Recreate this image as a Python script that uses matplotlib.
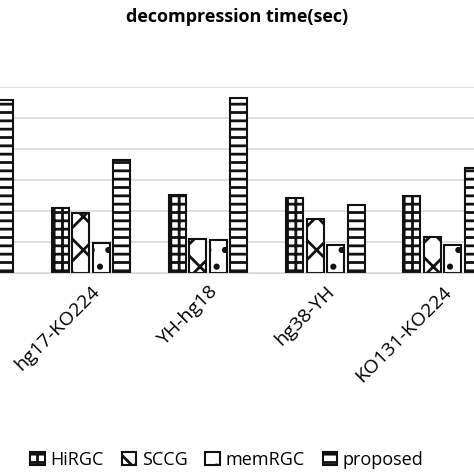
import matplotlib
matplotlib.use("Agg")
import matplotlib.pyplot as plt
import numpy as np

plt.rcParams['font.family'] = ['Open Sans', 'DejaVu Sans']
plt.rcParams['hatch.linewidth'] = 2.0

groups = ["YH-KO224", "hg17-KO224", "YH-hg18", "hg38-YH", "KO131-KO224", "YH-KO131"]
series = ["HiRGC", "SCCG", "memRGC", "proposed"]
hirgc = [2.4, 2.1, 2.52, 2.42, 2.48, 2.3]
sccg = [1.5, 1.94, 1.1, 1.74, 1.16, 1.2]
memrgc = [1.0, 0.97, 1.06, 0.9, 0.9, 0.9]
proposed = [5.6, 3.65, 5.65, 2.2, 3.39, 3.0]
values = [hirgc, sccg, memrgc, proposed]
hatches = ['++', 'x', '.', '--']

fig = plt.figure(figsize=(4.74, 4.74), dpi=100)
ax = fig.add_axes([0, 0.424, 1, 0.392])
x = np.arange(len(groups))
w = 0.145
step = 0.175
for k, (name, v, h) in enumerate(zip(series, values, hatches)):
    ax.bar(x + (k - 1.5) * step, v, w, facecolor='white', edgecolor='#111111',
           hatch=h, linewidth=1.5, label=name)
ax.set_ylim(0, 6)
ax.set_yticks(np.arange(0, 7, 1))
ax.yaxis.grid(True, color='#d9d9d9', linewidth=1.2)
ax.set_axisbelow(True)
for s in ['left', 'right', 'top']:
    ax.spines[s].set_visible(False)
ax.spines['bottom'].set_color('#d9d9d9')
ax.tick_params(left=False, labelleft=False, bottom=False)
ax.set_xticks(x)
ax.set_xticklabels(groups, rotation=45, ha='right', rotation_mode='anchor', fontsize=14)
ax.set_xlim(0.222, 4.27)
fig.text(0.5, 0.965, "decompression time(sec)", ha='center', va='center',
         fontsize=13, fontweight='bold')
fig.legend(loc='center left', bbox_to_anchor=(0.03, 0.03), ncol=4, frameon=False,
           fontsize=13, handlelength=0.8, handleheight=0.8, columnspacing=1.0,
           handletextpad=0.3)
fig.savefig("out.png", dpi=100)
